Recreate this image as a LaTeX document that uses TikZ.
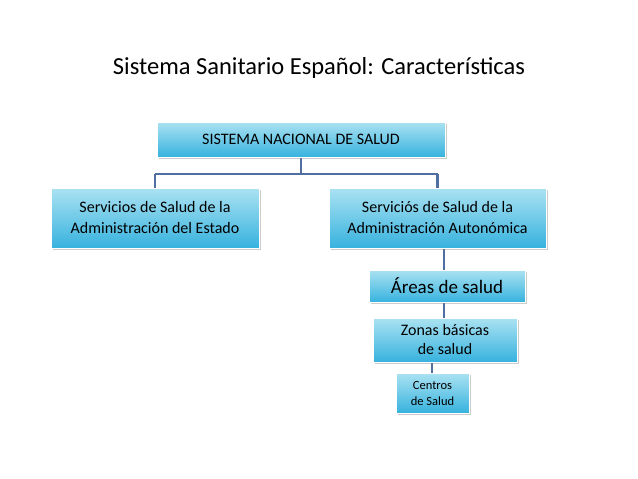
\documentclass[tikz,border=0pt]{standalone}
\usepackage{fontspec}
\setmainfont{Carlito}
\usetikzlibrary{shadows}
\definecolor{btop}{RGB}{170,226,242}
\definecolor{bbot}{RGB}{55,178,222}
\definecolor{lnc}{RGB}{80,110,160}
\tikzset{
 bx/.style={draw=white, line width=0.5pt, top color=btop, bottom color=bbot, shade,
   drop shadow={shadow xshift=1.5pt,shadow yshift=-1.5pt,opacity=0.4}, align=center, inner sep=0pt, text=black},
 ln/.style={draw=lnc, line width=2.5pt}
}
\begin{document}
\begin{tikzpicture}[x=1pt,y=-1pt]
\useasboundingbox (0,0) rectangle (638,479);
\coordinate (m) at (301,174);
\coordinate (ml) at (155,174);
\coordinate (mr) at (437.5,174);
\draw[ln] (301,150) -- (m) (ml) -- (mr);
\draw[ln] (ml) -- (155,200);
\draw[ln] (mr) -- (437.5,200);
\draw[ln] (444,240) -- (444,280);
\draw[ln] (444,290) -- (444,330);
\draw[ln] (432,350) -- (432,385);
\node[font=\fontsize{24.5}{28}\selectfont] (t) at (319,68) {Sistema Sanitario Español: Características};
\node[bx, minimum width=288, minimum height=35, font=\fontsize{16}{19}\selectfont] (snd) at (301,139.5) {SISTEMA NACIONAL DE SALUD};
\node[bx, minimum width=208, minimum height=60, font=\fontsize{16}{21}\selectfont] (l) at (155,218) {Servicios de Salud de la\\Administración del Estado};
\node[bx, minimum width=217, minimum height=60, font=\fontsize{16}{21}\selectfont] (r) at (437.5,218) {Serviciós de Salud de la\\Administración Autonómica};
\node[bx, minimum width=156, minimum height=32, font=\fontsize{19}{22}\selectfont] (a) at (447,286) {Áreas de salud};
\node[bx, minimum width=144, minimum height=44, font=\fontsize{16}{19}\selectfont] (z) at (445,340) {Zonas básicas\\de salud};
\node[bx, minimum width=73, minimum height=40, font=\fontsize{12.5}{16}\selectfont] (c) at (432.5,393) {Centros\\de Salud};
\end{tikzpicture}
\end{document}
